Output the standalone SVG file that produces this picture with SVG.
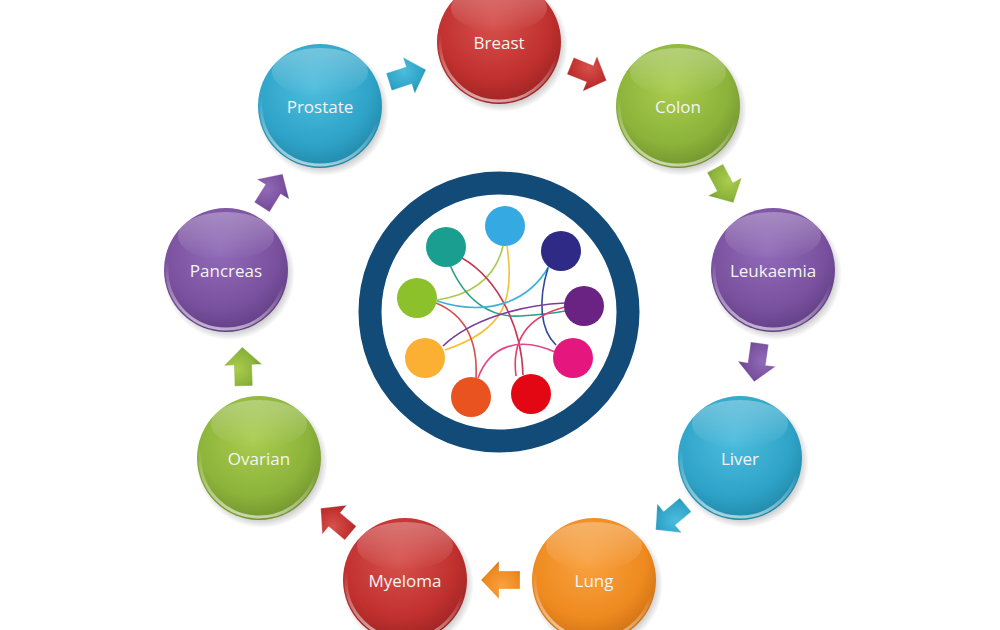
<svg xmlns="http://www.w3.org/2000/svg" width="1000" height="630" viewBox="0 0 1000 630">
<defs>
<radialGradient id="gRed" cx="45%" cy="35%" r="70%"><stop offset="0" stop-color="#D6504C"/><stop offset="0.65" stop-color="#C0302E"/><stop offset="1" stop-color="#962222"/></radialGradient>
<radialGradient id="gGreen" cx="45%" cy="35%" r="70%"><stop offset="0" stop-color="#A9CC4E"/><stop offset="0.65" stop-color="#8CB33A"/><stop offset="1" stop-color="#6E8E2C"/></radialGradient>
<radialGradient id="gPurple" cx="45%" cy="35%" r="70%"><stop offset="0" stop-color="#906AB8"/><stop offset="0.65" stop-color="#7A519F"/><stop offset="1" stop-color="#5D3C80"/></radialGradient>
<radialGradient id="gCyan" cx="45%" cy="35%" r="70%"><stop offset="0" stop-color="#4DBCDD"/><stop offset="0.65" stop-color="#2FA4C8"/><stop offset="1" stop-color="#1E83A2"/></radialGradient>
<radialGradient id="gOrange" cx="45%" cy="35%" r="70%"><stop offset="0" stop-color="#F9A240"/><stop offset="0.65" stop-color="#EE8A1F"/><stop offset="1" stop-color="#C86C12"/></radialGradient>
<linearGradient id="gloss" x1="0" y1="0" x2="0" y2="1"><stop offset="0" stop-color="#fff" stop-opacity="0.3"/><stop offset="1" stop-color="#fff" stop-opacity="0"/></linearGradient>
<linearGradient id="rim" x1="0.2" y1="0" x2="0" y2="1"><stop offset="0.45" stop-color="#fff" stop-opacity="0"/><stop offset="1" stop-color="#fff" stop-opacity="0.7"/></linearGradient>
<radialGradient id="shadow" cx="50%" cy="50%" r="50%"><stop offset="0.85" stop-color="#000" stop-opacity="0.22"/><stop offset="1" stop-color="#000" stop-opacity="0"/></radialGradient>
<g id="sphere">
<circle cx="3" cy="4" r="66" fill="url(#shadow)"/>
</g>
<path id="arrow" d="M-19,-9 L2,-9 L2,-19 L20,0 L2,19 L2,9 L-19,9 Z"/>
</defs>
<style>
.lbl{font-family:"Open Sans","Noto Sans","DejaVu Sans",sans-serif;font-size:17px;fill:#F4F4F4;text-anchor:middle;dominant-baseline:central}
.gl{fill:url(#gloss)}
.rm{fill:none;stroke:url(#rim);stroke-width:3}
.arr{stroke:#fff;stroke-opacity:0.3;stroke-width:1}
.ln{fill:none;stroke-width:1.6}
</style>
<rect width="1000" height="630" fill="#fff"/>

<g id="connectors">
<use href="#arrow" class="arr" fill="url(#gCyan)" transform="translate(407,76) rotate(-18)"/>
<use href="#arrow" class="arr" fill="url(#gRed)" transform="translate(588,73) rotate(22)"/>
<use href="#arrow" class="arr" fill="url(#gGreen)" transform="translate(724,185) rotate(62)"/>
<use href="#arrow" class="arr" fill="url(#gPurple)" transform="translate(757,362) rotate(98)"/>
<use href="#arrow" class="arr" fill="url(#gCyan)" transform="translate(671,517) rotate(140)"/>
<use href="#arrow" class="arr" fill="url(#gOrange)" transform="translate(501,580) rotate(180)"/>
<use href="#arrow" class="arr" fill="url(#gRed)" transform="translate(336,521) rotate(220)"/>
<use href="#arrow" class="arr" fill="url(#gGreen)" transform="translate(243,367) rotate(-92)"/>
<use href="#arrow" class="arr" fill="url(#gPurple)" transform="translate(272,191) rotate(-58)"/>
</g>

<g id="center">
<circle cx="499" cy="312" r="129" fill="#fff" stroke="#124A78" stroke-width="23"/>
<path class="ln" stroke="#F2C23A" d="M507,246 C515,300 505,330 445,350"/>
<path class="ln" stroke="#A9C94A" d="M503,246 C495,280 470,295 437,300"/>
<path class="ln" stroke="#2A9E88" d="M450,265 C465,300 490,318 520,316 S555,313 565,311"/>
<path class="ln" stroke="#C23C58" d="M462,258 C500,280 522,330 523,375"/>
<path class="ln" stroke="#3DB2D8" d="M549,266 C530,300 490,318 437,301"/>
<path class="ln" stroke="#2F4A9A" d="M548,268 C538,300 540,330 556,345"/>
<path class="ln" stroke="#D8504A" d="M436,303 C465,315 478,340 476,378"/>
<path class="ln" stroke="#7A3E9A" d="M565,303 C520,305 470,320 443,346"/>
<path class="ln" stroke="#E0406A" d="M565,307 C522,318 512,345 516,376"/>
<path class="ln" stroke="#E2458A" d="M555,352 C520,336 490,345 478,378"/>
<circle cx="505" cy="226" r="20" fill="#35A9E1"/>
<circle cx="446" cy="247" r="20" fill="#1A9E8F"/>
<circle cx="561" cy="251" r="20" fill="#2E2A86"/>
<circle cx="417" cy="298" r="20" fill="#8DC12B"/>
<circle cx="584" cy="306" r="20" fill="#6A2383"/>
<circle cx="425" cy="358" r="20" fill="#FBB033"/>
<circle cx="573" cy="358" r="20" fill="#E5177E"/>
<circle cx="471" cy="397" r="20" fill="#E9531F"/>
<circle cx="531" cy="394" r="20" fill="#E30613"/>
</g>

<g id="breast" transform="translate(499,42)">
<use href="#sphere"/><circle r="62" fill="url(#gRed)"/><ellipse cy="-34" rx="48" ry="24" class="gl"/><circle r="59" class="rm"/>
<text class="lbl" y="0">Breast</text></g>
<g id="colon" transform="translate(678,106)">
<use href="#sphere"/><circle r="62" fill="url(#gGreen)"/><ellipse cy="-34" rx="48" ry="24" class="gl"/><circle r="59" class="rm"/>
<text class="lbl" y="0">Colon</text></g>
<g id="leukaemia" transform="translate(773,270)">
<use href="#sphere"/><circle r="62" fill="url(#gPurple)"/><ellipse cy="-34" rx="48" ry="24" class="gl"/><circle r="59" class="rm"/>
<text class="lbl" y="0">Leukaemia</text></g>
<g id="liver" transform="translate(740,458)">
<use href="#sphere"/><circle r="62" fill="url(#gCyan)"/><ellipse cy="-34" rx="48" ry="24" class="gl"/><circle r="59" class="rm"/>
<text class="lbl" y="0">Liver</text></g>
<g id="lung" transform="translate(594,580)">
<use href="#sphere"/><circle r="62" fill="url(#gOrange)"/><ellipse cy="-34" rx="48" ry="24" class="gl"/><circle r="59" class="rm"/>
<text class="lbl" y="0">Lung</text></g>
<g id="myeloma" transform="translate(405,580)">
<use href="#sphere"/><circle r="62" fill="url(#gRed)"/><ellipse cy="-34" rx="48" ry="24" class="gl"/><circle r="59" class="rm"/>
<text class="lbl" y="0">Myeloma</text></g>
<g id="ovarian" transform="translate(259,458)">
<use href="#sphere"/><circle r="62" fill="url(#gGreen)"/><ellipse cy="-34" rx="48" ry="24" class="gl"/><circle r="59" class="rm"/>
<text class="lbl" y="0">Ovarian</text></g>
<g id="pancreas" transform="translate(226,270)">
<use href="#sphere"/><circle r="62" fill="url(#gPurple)"/><ellipse cy="-34" rx="48" ry="24" class="gl"/><circle r="59" class="rm"/>
<text class="lbl" y="0">Pancreas</text></g>
<g id="prostate" transform="translate(320,106)">
<use href="#sphere"/><circle r="62" fill="url(#gCyan)"/><ellipse cy="-34" rx="48" ry="24" class="gl"/><circle r="59" class="rm"/>
<text class="lbl" y="0">Prostate</text></g>
</svg>
